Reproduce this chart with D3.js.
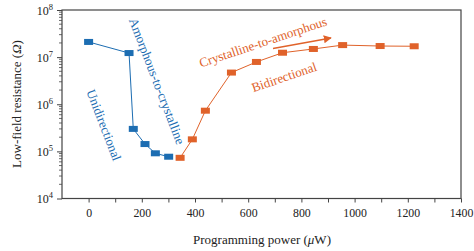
<!DOCTYPE html>
<html><head><meta charset="utf-8">
<script src="https://cdn.jsdelivr.net/npm/d3@7"></script>
<style>body{margin:0;background:#fff}svg{display:block}text{font-family:"Liberation Serif","Times New Roman",serif}</style>
</head><body>
<svg id="c" width="474" height="251"></svg>
<script>
const uniPower = [0, 152, 168, 212, 251, 301];
const uniRes   = [2.1e7, 1.22e7, 3.0e5, 1.43e5, 9.1e4, 7.7e4];
const biPower  = [344, 390, 439, 537, 631, 729, 845, 955, 1096, 1224];
const biRes    = [7.3e4, 1.8e5, 7.3e5, 4.7e6, 7.9e6, 1.24e7, 1.49e7, 1.8e7, 1.72e7, 1.7e7];
const xTicks = [0, 200, 400, 600, 800, 1000, 1200, 1400];
const yTicks = [1e4, 1e5, 1e6, 1e7, 1e8];

const blue = "#1c6db2", orange = "#e0622a", axisCol = "#444";
const svg = d3.select("#c");
const x = d3.scaleLinear([-100, 1400], [62, 461]);
const y = d3.scaleLog([1e4, 1e8], [198.5, 10]);

// frame
svg.append("rect").attr("x", 62).attr("y", 10).attr("width", 399).attr("height", 188.5)
  .attr("fill", "none").attr("stroke", axisCol).attr("stroke-width", 1.2);

// x axis
const xa = svg.append("g").attr("transform", "translate(0,198.5)")
  .call(d3.axisBottom(x).tickValues(d3.range(0, 1401, 100)).tickSize(4).tickPadding(6)
    .tickFormat(d => xTicks.includes(d) ? d : ""));
xa.select(".domain").remove();
xa.selectAll("line").attr("stroke", axisCol);
xa.selectAll("text").attr("font-size", 11.8).attr("fill", "#222");

// y axis
const minor = [];
for (let e = 4; e < 8; e++) for (let k = 2; k <= 9; k++) minor.push(k * Math.pow(10, e));
const ya = svg.append("g").attr("transform", "translate(62,0)")
  .call(d3.axisLeft(y).tickValues(yTicks).tickSize(5).tickFormat(""));
ya.select(".domain").remove();
ya.selectAll("line").attr("stroke", axisCol);
svg.append("g").selectAll("line").data(minor).join("line")
  .attr("x1", 59).attr("x2", 62).attr("y1", d => y(d)).attr("y2", d => y(d))
  .attr("stroke", axisCol).attr("stroke-width", 0.8);
const yl = svg.append("g").selectAll("text").data(yTicks).join("text")
  .attr("x", 53).attr("y", d => y(d) + 4.5).attr("text-anchor", "end")
  .attr("font-size", 12).attr("fill", "#222");
yl.append("tspan").text("10");
yl.append("tspan").attr("font-size", 8.5).attr("dy", -5).text(d => Math.round(Math.log10(d)));

// axis titles
svg.append("text").attr("transform", "translate(21,104) rotate(-90)").attr("text-anchor", "middle")
  .attr("font-size", 13).attr("fill", "#222")
  .html('Low-field resistance (<tspan font-style="italic">Ω</tspan>)');
svg.append("text").attr("x", 262).attr("y", 244).attr("text-anchor", "middle")
  .attr("font-size", 13).attr("fill", "#222")
  .html('Programming power (<tspan font-style="italic">μ</tspan>W)');

// series
function series(px, rv, col) {
  const pts = px.map((p, i) => [p, rv[i]]);
  svg.append("path").datum(pts)
    .attr("d", d3.line().x(d => x(d[0])).y(d => y(d[1])))
    .attr("fill", "none").attr("stroke", col).attr("stroke-width", 1);
  svg.append("g").selectAll("rect").data(pts).join("rect")
    .attr("x", d => x(d[0]) - 4.5).attr("y", d => y(d[1]) - 3)
    .attr("width", 9).attr("height", 6).attr("fill", col);
}
series(uniPower, uniRes, blue);
series(biPower, biRes, orange);

// annotations
function label(t, cx, cy, ang, col) {
  svg.append("text").attr("transform", `translate(${cx},${cy}) rotate(${ang})`)
    .attr("text-anchor", "middle").attr("dominant-baseline", "central")
    .attr("font-size", 13).attr("fill", col).text(t);
}
label("Amorphous-to-crystalline", 157, 81, 69, blue);
label("Unidirectional", 104, 125, 69, blue);
label("Crystalline-to-amorphous", 263, 42, -18.5, orange);
label("Bidirectional", 284, 77, -19, orange);

// arrow
svg.append("defs").append("marker").attr("id", "ah").attr("viewBox", "0 0 10 10")
  .attr("refX", 9).attr("refY", 5).attr("markerWidth", 8).attr("markerHeight", 8)
  .attr("markerUnits", "userSpaceOnUse").attr("orient", "auto")
  .append("path").attr("d", "M0,0L10,5L0,10z").attr("fill", orange);
svg.append("line").attr("x1", 273).attr("y1", 48.5).attr("x2", 331).attr("y2", 38)
  .attr("stroke", orange).attr("stroke-width", 1.3).attr("marker-end", "url(#ah)");
</script>
</body></html>
